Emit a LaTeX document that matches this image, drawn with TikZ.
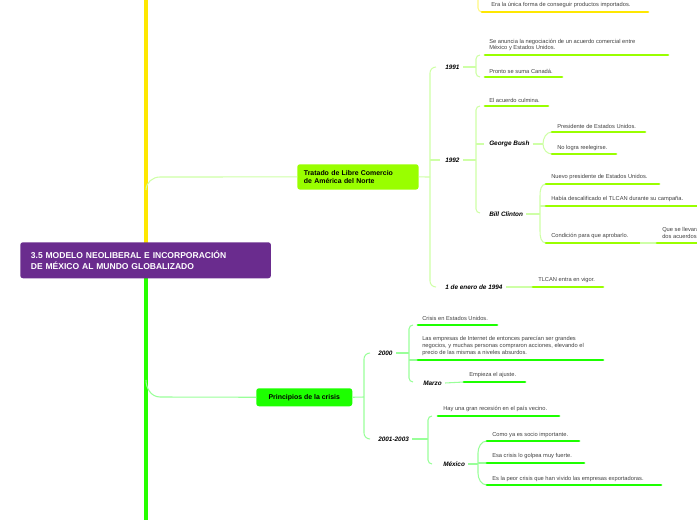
\documentclass[tikz,border=0pt]{standalone}
\usepackage{fontspec}
\setmainfont{Liberation Sans}
\begin{document}
\begin{tikzpicture}[x=0.75pt,y=-0.75pt,
 t/.style={anchor=west,inner sep=0pt,font=\fontsize{4.3}{5.2}\selectfont,text=black!75,align=left},
 lab/.style={anchor=west,inner sep=0pt,font=\fontsize{4.8}{5.5}\selectfont\bfseries\itshape},
 thin1/.style={draw=lime!60!green!35!white,line width=0.8pt},
 thin2/.style={draw=green!40!white,line width=0.8pt},
 ulA/.style={draw=lime!80!green,line width=2.2pt,line cap=round},
 ulB/.style={draw=green!85!lime,line width=2.2pt,line cap=round},
 ulY/.style={draw=yellow!90!orange,line width=2.2pt,line cap=round}]
\useasboundingbox (0,0) rectangle (697,520);
\definecolor{purp}{HTML}{6A2C8E}
% spine
\draw[draw=yellow!90!orange,line width=2.5pt] (146,0) -- (146,250);
\draw[draw=green!80!lime,line width=2.5pt] (146,250) -- (146,520);
% top leaf
\draw[draw=yellow!50,line width=0.8pt] (478,0) -- (478,8) to[out=-90,in=180] (482,12);
\node[t] (top) at (491,5) {Era la única forma de conseguir productos importados.};
\draw[ulY] (482,12) -- (648,12);
% central
\node[fill=purp,rounded corners=2pt,inner xsep=8pt,inner ysep=0pt,text width=172pt,minimum height=27pt,text=white,font=\fontsize{6.4}{7.8}\selectfont\bfseries,align=left,anchor=north west] (c) at (20,242) {3.5 MODELO NEOLIBERAL E INCORPORACIÓN\\DE MÉXICO AL MUNDO GLOBALIZADO};
% Tratado
\node[fill=lime!80!green,rounded corners=2pt,inner xsep=5pt,inner ysep=0pt,minimum height=19pt,font=\fontsize{5.2}{6.2}\selectfont\bfseries,align=left,anchor=north west,text width=81pt] (tr) at (297,164) {Tratado de Libre Comercio\\de América del Norte};
\node[fill=green!85!lime,rounded corners=2pt,inner xsep=5pt,inner ysep=0pt,minimum width=72pt,minimum height=13.5pt,font=\fontsize{5.2}{6.2}\selectfont\bfseries,anchor=north west] (pc) at (256,388) {Principios de la crisis};
\draw[thin1] (146,190) to[out=90,in=180] (160,177) -- (tr.west);
\draw[thin2] (146,380) to[out=-90,in=180] (160,397) -- (pc.west);
% Tratado branch
\draw[thin1] (tr.east) -- (430,177);
\draw[thin1] (436,67) to[out=180,in=90] (430,73) -- (430,281) to[out=-90,in=180] (436,287);
\draw[thin1] (430,160) -- (440,160);
\node[lab] (y91) at (445,67) {1991};
\node[lab] (y92) at (445,160) {1992};
\node[lab] (y94) at (445,287) {1 de enero de 1994};
% 1991
\draw[thin1] (y91.east)++(3,0) -- (476,67);
\draw[thin1] (480,55) to[out=180,in=90] (476,59) -- (476,73) to[out=-90,in=180] (480,77);
\node[t] at (489,45) {Se anuncia la negociación de un acuerdo comercial entre\\México y Estados Unidos.};
\draw[ulA] (485,55) -- (668,55);
\node[t] at (489,71) {Pronto se suma Canadá.};
\draw[ulA] (485,77) -- (562,77);
% 1992
\draw[thin1] (y92.east)++(3,0) -- (476,160);
\draw[thin1] (480,106) to[out=180,in=90] (476,110) -- (476,209) to[out=-90,in=180] (480,213);
\draw[thin1] (476,144) -- (484,144);
\node[t] at (489,100) {El acuerdo culmina.};
\draw[ulA] (485,106) -- (548,106);
\node[lab] (gb) at (489,144) {George Bush};
\draw[thin1] (gb.east)++(3,0) -- (543,144);
\draw[thin1] (552,132) to[out=180,in=90] (543,144) to[out=-90,in=180] (552,154);
\node[t] at (557,126) {Presidente de Estados Unidos.};
\draw[ulA] (552,132) -- (645,132);
\node[t] at (557,148) {No logra reelegirse.};
\draw[ulA] (552,154) -- (616,154);
\node[lab] (bc) at (489,214) {Bill Clinton};
\draw[thin1] (bc.east)++(3,0) -- (540,214);
\draw[thin1] (546,184) to[out=180,in=90] (540,196) -- (540,231) to[out=-90,in=180] (546,243);
\draw[thin1] (540,206) -- (546,206);
\node[t] at (551,177) {Nuevo presidente de Estados Unidos.};
\draw[ulA] (546,184) -- (659,184);
\node[t] at (551,199) {Había descalificado el TLCAN durante su campaña.};
\draw[ulA] (546,206) -- (697,206);
\node[t] at (551,236) {Condición para que aprobarlo.};
\draw[ulA] (546,243) -- (640,243);
\draw[thin1] (640,243) -- (657,243);
\node[t] at (662,233) {Que se llevaran\\dos acuerdos};
\draw[ulA] (657,243) -- (700,243);
% 1994
\draw[thin1] (y94.east)++(3,0) -- (533,287);
\node[t] at (538,280) {TLCAN entra en vigor.};
\draw[ulA] (533,287) -- (603,287);
% crisis branch
\draw[thin2] (pc.east) -- (364,397);
\draw[thin2] (370,353) to[out=180,in=90] (364,359) -- (364,433) to[out=-90,in=180] (370,439);
\node[lab] (y00) at (378,353) {2000};
\node[lab] (y01) at (378,439) {2001-2003};
\draw[thin2] (y00.east)++(3,0) -- (409,353);
\draw[thin2] (413,325) to[out=180,in=90] (409,329) -- (409,378) to[out=-90,in=180] (413,382);
\draw[thin2] (409,360) -- (418,360);
\node[t] at (422,318) {Crisis en Estados Unidos.};
\draw[ulB] (418,325) -- (497,325);
\node[t] at (422,346) {Las empresas de Internet de entonces parecían ser grandes\\negocios, y muchas personas compraron acciones, elevando el\\precio de las mismas a niveles absurdos.};
\draw[ulB] (418,360) -- (603,360);
\node[lab] (mz) at (423,383) {Marzo};
\draw[thin2] (mz.east)++(3,0) -- (464,382);
\node[t] at (469,375) {Empieza el ajuste.};
\draw[ulB] (464,382) -- (525,382);
\draw[thin2] (y01.east)++(3,0) -- (428,439);
\draw[thin2] (432,416) to[out=180,in=90] (428,420) -- (428,460) to[out=-90,in=180] (432,464);
\node[t] at (443,409) {Hay una gran recesión en el país vecino.};
\draw[ulB] (438,416) -- (559,416);
\node[lab] (mx) at (443,464) {México};
\draw[thin2] (mx.east)++(3,0) -- (478,464);
\draw[thin2] (487,441) to[out=180,in=90] (478,453) -- (478,473) to[out=-90,in=180] (487,485);
\draw[thin2] (478,463) -- (487,463);
\node[t] at (492,435) {Como ya es socio importante.};
\draw[ulB] (487,441) -- (579,441);
\node[t] at (492,456) {Esa crisis lo golpea muy fuerte.};
\draw[ulB] (487,463) -- (584,463);
\node[t] at (492,479) {Es la peor crisis que han vivido las empresas exportadoras.};
\draw[ulB] (487,485) -- (661,485);
\end{tikzpicture}
\end{document}
